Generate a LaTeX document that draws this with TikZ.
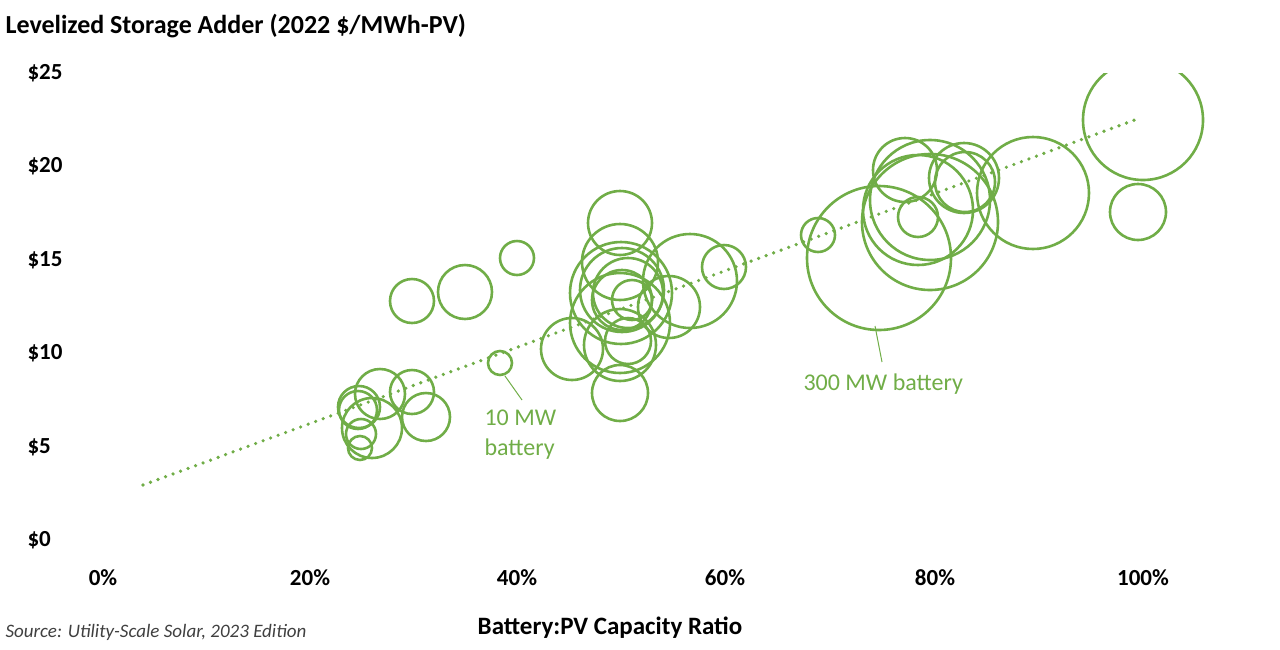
\documentclass[tikz,border=0pt]{standalone}
\usepackage{fontspec}
\setmainfont{Carlito}
\begin{document}
\begin{tikzpicture}[x=1pt,y=-1pt,
  bub/.style={draw=gcol,line width=2.6pt},
  ax/.style={font=\fontsize{23}{27}\selectfont\bfseries,text=black},
  ann/.style={font=\fontsize{24}{30}\selectfont,text=gcol,align=left}]
\definecolor{gcol}{RGB}{112,173,71}
\useasboundingbox (0,0) rectangle (1280,649);
% axis labels
\foreach \v/\y in {0/540,5/447,10/353,15/260,20/166,25/73}
  \node[ax,anchor=west] (y\v) at (24,\y) {\$\v};
\foreach \p/\x in {0/103,20/310,40/517,60/725,80/935,100/1143}
  \node[ax] (x\p) at (\x,578) {\p\%};
\node[font=\fontsize{26}{30}\selectfont\bfseries,anchor=west] (title) at (2,26) {Levelized Storage Adder (2022 \$/MWh-PV)};
\node[font=\fontsize{25}{30}\selectfont\bfseries] (xt) at (610,628) {Battery:PV Capacity Ratio};
\node[font=\fontsize{19}{22}\selectfont\itshape,text=black!75,anchor=west] (src) at (2,632) {Source: Utility-Scale Solar, 2023 Edition};
% trend
\draw[gcol,line width=3.6pt,dash pattern=on 0pt off 8pt,line cap=round] (143,485) -- (1140,118);
\begin{scope}
\clip (0,73) rectangle (1280,649);
\foreach \cx/\cy/\r in {1143/120/60,1138/212/28,1033/193/56,964/178/35,965/182/30,905/170/32,
  930/200/60,918/210/55,930/222/68,918/217/20,879/258/72,818/235/17,
  724/267/22,690/281/47,669/307/31,620/223/32,620/262/38,621/293/51,622/290/42,622/300/30,
  628/293/35,632/300/20,620/323/50,620/345/36,628/341/23,620/393/28,572/349/31,
  517/258/17,465/292/27,412/301/22,500/363/12,
  380/394/25,412/392/22,426/417/24,359/407/21,372/428/30,361/434/15,360/448/12,358/410/19}
  \draw[bub] (\cx,\cy) circle[radius=\r];
\end{scope}
% annotations
\node[ann,anchor=north west] (a10) at (481,406) {10 MW\\battery};
\coordinate (p10) at (505,376);
\draw[gcol,line width=1pt] (p10) -- (522,400);
\node[ann,anchor=west] (a300) at (800,384) {300 MW battery};
\coordinate (p300) at (875,326);
\draw[gcol,line width=1pt] (p300) -- (882,362);
\end{tikzpicture}
\end{document}
